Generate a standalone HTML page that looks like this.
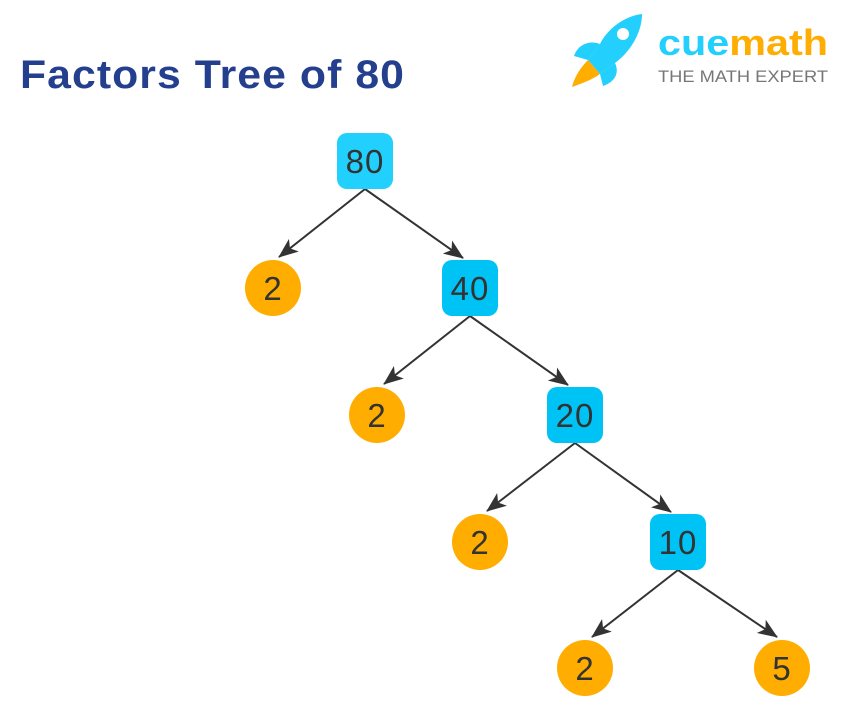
<!DOCTYPE html>
<html><head><meta charset="utf-8"><style>
html,body{margin:0;padding:0;background:#fff;}
body{width:841px;height:713px;overflow:hidden;position:relative;font-family:"Liberation Sans",sans-serif;}
</style></head><body>
<svg width="841" height="713" viewBox="0 0 841 713" xmlns="http://www.w3.org/2000/svg">
<defs>
<marker id="a" markerWidth="20" markerHeight="16" refX="19" refY="8" orient="auto" markerUnits="userSpaceOnUse">
<path d="M0,0 L20,8 L0,16 L5,8 Z" fill="#333"/>
</marker>
</defs>
<text x="20" y="88" font-family="Liberation Sans, sans-serif" font-size="40" font-weight="bold" fill="#233f8e" textLength="385" lengthAdjust="spacingAndGlyphs" letter-spacing="1">Factors Tree of 80</text>
<!-- rocket -->
<g>
<path d="M642,14 C625,16 608,28 600,44 L588,60 L600,74 L615,63 C630,52 642,33 642,14 Z" fill="#22cffd"/>
<path d="M600,44 C590,40 578,44 574,56 L588,60 Z" fill="#22cffd"/>
<path d="M615,63 C620,74 614,82 603,86 L600,74 Z" fill="#22cffd"/>
<path d="M588,60 L600,74 C592,80 580,84 572,87 C574,78 580,68 588,60 Z" fill="#ffad00"/>
<circle cx="623" cy="34" r="6" fill="#fff"/>
</g>
<text x="658" y="55" font-family="Liberation Sans, sans-serif" font-size="36" font-weight="bold" textLength="170" lengthAdjust="spacingAndGlyphs"><tspan fill="#22cffd">cue</tspan><tspan fill="#ffad00">math</tspan></text>
<text x="658" y="82" font-family="Liberation Sans, sans-serif" font-size="17" fill="#777" textLength="170" lengthAdjust="spacingAndGlyphs">THE MATH EXPERT</text>
<!-- lines -->
<g stroke="#333" stroke-width="2" fill="none">
<line x1="365" y1="189" x2="279" y2="257" marker-end="url(#a)"/>
<line x1="365" y1="189" x2="463" y2="258" marker-end="url(#a)"/>
<line x1="470" y1="316" x2="384" y2="384" marker-end="url(#a)"/>
<line x1="470" y1="316" x2="568" y2="385" marker-end="url(#a)"/>
<line x1="575" y1="443" x2="487" y2="511" marker-end="url(#a)"/>
<line x1="575" y1="443" x2="671" y2="512" marker-end="url(#a)"/>
<line x1="678" y1="570" x2="592" y2="637" marker-end="url(#a)"/>
<line x1="678" y1="570" x2="777" y2="637" marker-end="url(#a)"/>
</g>
<g font-family="Liberation Sans, sans-serif" font-size="33" fill="#333" text-anchor="middle" letter-spacing="1">
<rect x="337" y="133" width="56" height="56" rx="10" fill="#22d0fd"/>
<text x="365" y="173">80</text>
<rect x="442" y="260" width="56" height="56" rx="10" fill="#00c3f5"/>
<text x="470" y="300">40</text>
<rect x="547" y="387" width="56" height="56" rx="10" fill="#00c3f5"/>
<text x="575" y="427">20</text>
<rect x="650" y="514" width="56" height="56" rx="10" fill="#00c3f5"/>
<text x="678" y="554">10</text>
<circle cx="273" cy="288" r="28" fill="#ffad00"/><text x="273" y="300">2</text>
<circle cx="377" cy="415" r="28" fill="#ffad00"/><text x="377" y="427">2</text>
<circle cx="480" cy="542" r="28" fill="#ffad00"/><text x="480" y="554">2</text>
<circle cx="585" cy="668" r="28" fill="#ffad00"/><text x="585" y="680">2</text>
<circle cx="782" cy="668" r="28" fill="#ffad00"/><text x="782" y="680">5</text>
</g>
</svg>
</body></html>
